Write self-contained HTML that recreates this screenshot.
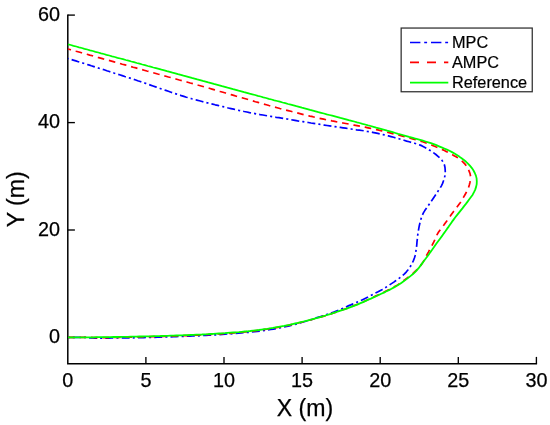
<!DOCTYPE html>
<html><head><meta charset="utf-8"><title>Trajectory</title>
<style>
html,body{margin:0;padding:0;background:#fff;}
svg{display:block;font-family:"Liberation Sans",sans-serif;}
</style></head>
<body>
<svg width="550" height="425" viewBox="0 0 550 425">
<rect width="550" height="425" fill="#fff"/>
<g stroke="#000" fill="none">
<path d="M67.8,14.444999999999999 V363.8 H537.0749999999999" stroke-width="1.5" stroke-linejoin="miter"/>
<g stroke-width="1.35"><line x1="145.9" y1="363.8" x2="145.9" y2="356.90000000000003"/><line x1="224.0" y1="363.8" x2="224.0" y2="356.90000000000003"/><line x1="302.1" y1="363.8" x2="302.1" y2="356.90000000000003"/><line x1="380.2" y1="363.8" x2="380.2" y2="356.90000000000003"/><line x1="458.3" y1="363.8" x2="458.3" y2="356.90000000000003"/><line x1="536.4" y1="363.8" x2="536.4" y2="356.90000000000003"/><line x1="67.8" y1="337.5" x2="74.89999999999999" y2="337.5"/><line x1="67.8" y1="230.0" x2="74.89999999999999" y2="230.0"/><line x1="67.8" y1="122.6" x2="74.89999999999999" y2="122.6"/><line x1="67.8" y1="15.1" x2="74.89999999999999" y2="15.1"/></g>
</g>
<g fill="none" stroke-width="1.8" stroke-linejoin="round">
<path d="M68.0,58.5 L70.6,59.3 L73.2,60.1 L75.8,60.9 L78.3,61.7 L80.9,62.5 L83.5,63.3 L86.1,64.1 L88.7,64.9 L91.3,65.8 L93.9,66.6 L96.4,67.4 L99.0,68.2 L101.6,69.0 L104.2,69.8 L106.8,70.7 L109.3,71.5 L111.9,72.3 L114.5,73.2 L117.1,74.0 L119.6,74.8 L122.2,75.6 L124.8,76.5 L127.4,77.3 L130.0,78.1 L132.5,79.0 L135.1,79.8 L137.7,80.7 L140.2,81.5 L142.8,82.4 L145.4,83.3 L147.9,84.2 L150.5,85.1 L153.0,86.0 L155.6,86.9 L158.2,87.8 L160.7,88.7 L163.3,89.6 L165.8,90.4 L168.4,91.3 L171.0,92.2 L173.5,93.1 L176.1,93.9 L178.7,94.7 L181.3,95.6 L183.8,96.4 L186.4,97.2 L189.0,97.9 L191.6,98.7 L194.2,99.4 L196.8,100.1 L199.4,100.8 L202.1,101.5 L204.7,102.2 L207.3,102.8 L209.9,103.5 L212.6,104.1 L215.2,104.8 L217.8,105.4 L220.5,106.1 L223.1,106.7 L225.7,107.3 L228.4,108.0 L231.0,108.6 L233.7,109.2 L236.3,109.8 L238.9,110.4 L241.6,110.9 L244.2,111.5 L246.9,112.0 L249.5,112.6 L252.2,113.1 L254.9,113.6 L257.5,114.1 L260.2,114.6 L262.9,115.0 L265.5,115.5 L268.2,116.0 L270.9,116.4 L273.5,116.8 L276.2,117.3 L278.9,117.7 L281.6,118.1 L284.2,118.6 L286.9,119.0 L289.6,119.4 L292.3,119.9 L294.9,120.3 L297.6,120.8 L300.3,121.2 L302.9,121.6 L305.6,122.1 L308.3,122.5 L311.0,123.0 L313.6,123.4 L316.3,123.8 L319.0,124.2 L321.7,124.7 L324.3,125.1 L327.0,125.5 L329.7,125.9 L332.4,126.3 L335.0,126.7 L337.7,127.1 L340.4,127.4 L343.1,127.8 L345.8,128.2 L348.4,128.6 L351.1,129.0 L353.8,129.4 L356.5,129.8 L359.2,130.1 L361.9,130.5 L364.5,130.9 L367.2,131.4 L369.9,131.8 L372.5,132.3 L375.2,132.8 L377.8,133.4 L380.5,134.0 L383.1,134.6 L385.8,135.3 L388.4,135.9 L391.0,136.6 L393.6,137.3 L396.2,138.0 L398.8,138.7 L401.4,139.5 L404.0,140.3 L406.6,141.1 L409.2,141.8 L411.9,142.5 L414.5,143.2 L417.1,144.0 L419.6,144.9 L422.1,145.9 L424.5,147.2 L426.9,148.5 L429.2,149.9 L431.5,151.3 L433.7,152.9 L435.9,154.5 L438.0,156.3 L440.0,158.1 L441.8,160.1 L443.3,162.4 L444.4,164.8 L445.0,167.5 L445.2,170.2 L445.3,172.9 L445.0,175.6 L444.3,178.2 L443.5,180.8 L442.6,183.4 L441.4,185.8 L440.1,188.1 L438.5,190.4 L437.0,192.7 L435.5,194.9 L434.0,197.2 L432.5,199.4 L431.0,201.6 L429.4,203.9 L427.9,206.1 L426.4,208.3 L424.8,210.6 L423.4,212.9 L422.3,215.3 L421.3,217.9 L420.5,220.5 L419.9,223.1 L419.3,225.7 L418.8,228.4 L418.3,231.1 L417.9,233.7 L417.6,236.4 L417.3,239.1 L417.0,241.8 L416.8,244.5 L416.5,247.2 L416.1,249.9 L415.7,252.6 L415.2,255.2 L414.5,257.8 L413.5,260.4 L412.4,262.9 L411.1,265.2 L409.7,267.6 L408.1,269.8 L406.4,271.8 L404.5,273.8 L402.5,275.6 L400.4,277.3 L398.2,279.0 L396.0,280.5 L393.8,282.1 L391.5,283.6 L389.3,285.1 L387.0,286.6 L384.7,288.0 L382.4,289.4 L380.0,290.7 L377.6,292.0 L375.2,293.2 L372.8,294.5 L370.4,295.7 L368.0,297.0 L365.6,298.2 L363.1,299.4 L360.7,300.5 L358.2,301.6 L355.8,302.7 L353.3,303.8 L350.8,304.9 L348.3,305.9 L345.8,307.0 L343.3,308.1 L340.8,309.2 L338.4,310.3 L335.8,311.3 L333.3,312.2 L330.8,313.1 L328.2,314.0 L325.6,314.9 L323.1,315.7 L320.5,316.6 L317.9,317.4 L315.3,318.2 L312.8,319.1 L310.2,319.9 L307.6,320.7 L305.0,321.5 L302.4,322.3 L299.8,323.0 L297.2,323.8 L294.6,324.5 L292.0,325.2 L289.3,325.8 L286.7,326.4 L284.1,327.0 L281.4,327.5 L278.7,328.1 L276.1,328.6 L273.4,329.1 L270.7,329.5 L268.1,330.0 L265.4,330.4 L262.7,330.7 L260.0,331.1 L257.3,331.4 L254.7,331.7 L252.0,332.0 L249.3,332.3 L246.6,332.5 L243.9,332.7 L241.2,333.0 L238.5,333.2 L235.8,333.4 L233.1,333.6 L230.4,333.8 L227.7,334.0 L225.0,334.2 L222.3,334.4 L219.6,334.6 L216.9,334.8 L214.2,334.9 L211.4,335.1 L208.7,335.2 L206.0,335.4 L203.3,335.5 L200.6,335.6 L197.9,335.8 L195.2,335.9 L192.5,336.0 L189.8,336.1 L187.1,336.2 L184.4,336.3 L181.7,336.4 L179.0,336.5 L176.3,336.6 L173.6,336.7 L170.9,336.8 L168.2,336.9 L165.5,337.0 L162.7,337.1 L160.0,337.2 L157.3,337.2 L154.6,337.3 L151.9,337.4 L149.2,337.4 L146.5,337.5 L143.8,337.6 L141.1,337.6 L138.4,337.7 L135.7,337.7 L133.0,337.8 L130.3,337.8 L127.5,337.8 L124.8,337.9 L122.1,337.9 L119.4,338.0 L116.7,338.0 L114.0,338.0 L111.3,338.0 L108.6,338.1 L105.9,338.1 L103.2,338.1 L100.5,338.1 L97.8,338.1 L95.0,338.1 L92.3,338.0 L89.6,337.8 L87.0,337.4 L84.3,337.4 L81.6,337.4 L78.8,337.4 L76.1,337.4 L73.4,337.4 L70.7,337.4 L68.0,337.4" stroke="#0000ff" stroke-width="1.7" stroke-dasharray="8 3.1 2.1 3.1" stroke-dashoffset="12.5"/>
<path d="M68.0,49.0 L70.7,49.8 L73.4,50.5 L76.1,51.3 L78.9,52.0 L81.6,52.8 L84.3,53.6 L87.0,54.3 L89.7,55.1 L92.4,55.8 L95.2,56.6 L97.9,57.4 L100.6,58.1 L103.3,58.9 L106.0,59.6 L108.8,60.4 L111.5,61.1 L114.2,61.9 L116.9,62.7 L119.6,63.4 L122.3,64.2 L125.1,64.9 L127.8,65.7 L130.5,66.4 L133.2,67.2 L135.9,67.9 L138.6,68.7 L141.4,69.5 L144.1,70.2 L146.8,71.0 L149.5,71.7 L152.2,72.5 L155.0,73.2 L157.7,74.0 L160.4,74.7 L163.1,75.5 L165.8,76.2 L168.5,77.0 L171.3,77.7 L174.0,78.5 L176.7,79.2 L179.4,80.0 L182.1,80.7 L184.9,81.5 L187.6,82.2 L190.3,83.0 L193.0,83.7 L195.7,84.5 L198.5,85.3 L201.2,86.0 L203.9,86.8 L206.6,87.6 L209.3,88.3 L212.0,89.1 L214.7,89.9 L217.5,90.7 L220.2,91.5 L222.9,92.2 L225.6,93.0 L228.3,93.8 L231.0,94.6 L233.7,95.4 L236.4,96.2 L239.2,97.0 L241.9,97.7 L244.6,98.5 L247.3,99.3 L250.0,100.1 L252.7,100.9 L255.4,101.7 L258.1,102.4 L260.9,103.2 L263.6,104.0 L266.3,104.7 L269.0,105.5 L271.7,106.2 L274.5,107.0 L277.2,107.7 L279.9,108.5 L282.6,109.2 L285.3,109.9 L288.1,110.6 L290.8,111.3 L293.5,112.0 L296.3,112.7 L299.0,113.4 L301.7,114.1 L304.5,114.8 L307.2,115.4 L309.9,116.1 L312.7,116.7 L315.4,117.4 L318.2,118.0 L320.9,118.6 L323.7,119.2 L326.4,119.8 L329.2,120.3 L332.0,120.9 L334.7,121.4 L337.5,122.0 L340.3,122.5 L343.0,123.0 L345.8,123.5 L348.6,124.0 L351.4,124.6 L354.1,125.1 L356.9,125.6 L359.7,126.1 L362.5,126.7 L365.2,127.2 L368.0,127.8 L370.8,128.4 L373.5,129.0 L376.3,129.6 L379.0,130.2 L381.8,130.9 L384.5,131.6 L387.2,132.2 L390.0,132.9 L392.7,133.6 L395.4,134.3 L398.2,135.0 L400.9,135.7 L403.6,136.4 L406.4,137.1 L409.1,137.8 L411.8,138.6 L414.5,139.4 L417.2,140.1 L419.9,141.0 L422.6,141.8 L425.3,142.7 L428.0,143.6 L430.6,144.6 L433.2,145.7 L435.8,146.8 L438.4,147.8 L441.0,149.0 L443.6,150.1 L446.1,151.4 L448.6,152.7 L451.1,154.0 L453.6,155.4 L456.1,156.8 L458.5,158.3 L460.7,160.0 L462.8,161.8 L464.8,163.9 L466.6,166.1 L467.9,168.5 L469.1,171.1 L470.1,173.8 L470.6,176.6 L470.5,179.4 L470.0,182.2 L469.3,185.0 L468.5,187.7 L467.3,190.3 L466.1,192.8 L464.7,195.2 L463.3,197.7 L461.9,200.2 L460.4,202.5 L458.7,204.8 L457.0,207.0 L455.3,209.3 L453.6,211.5 L451.9,213.8 L450.3,216.1 L448.6,218.4 L447.0,220.7 L445.3,222.9 L443.7,225.2 L442.0,227.5 L440.3,229.7 L438.6,232.0 L437.2,234.4 L436.0,237.0 L434.9,239.6 L433.7,242.2 L432.4,244.7 L431.1,247.2 L429.7,249.6 L428.4,252.1 L427.0,254.6 L425.7,257.1 L424.4,259.6 L423.0,262.1 L421.5,264.4 L419.7,266.6 L417.8,268.7 L415.9,270.7 L413.8,272.7 L411.7,274.5 L409.4,276.2 L407.2,278.0 L405.0,279.7 L402.7,281.3 L400.4,283.0 L398.1,284.6 L395.7,286.1 L393.2,287.4 L390.7,288.8 L388.2,290.0 L385.7,291.3 L383.1,292.6 L380.6,293.8 L378.0,295.0 L375.5,296.1 L372.9,297.3 L370.4,298.5 L367.8,299.7 L365.2,300.9 L362.7,302.1 L360.1,303.2 L357.5,304.3 L354.9,305.3 L352.2,306.4 L349.6,307.4 L347.0,308.4 L344.3,309.3 L341.7,310.3 L339.0,311.2 L336.3,312.2 L333.7,313.0 L331.0,313.9 L328.3,314.7 L325.6,315.6 L322.9,316.4 L320.2,317.2 L317.5,318.0 L314.8,318.7 L312.0,319.5 L309.3,320.2 L306.6,320.9 L303.9,321.7 L301.1,322.3 L298.4,323.0 L295.6,323.7 L292.9,324.3 L290.1,324.9 L287.4,325.5 L284.6,326.1 L281.9,326.6 L279.1,327.1 L276.3,327.6 L273.5,328.1 L270.7,328.5 L267.9,329.0 L265.1,329.4 L262.4,329.8 L259.6,330.2 L256.8,330.5 L254.0,330.9 L251.2,331.2 L248.4,331.5 L245.6,331.8 L242.7,332.1 L239.9,332.4 L237.1,332.6 L234.3,332.8 L231.5,333.1 L228.7,333.3 L225.9,333.5 L223.1,333.7 L220.2,333.9 L217.4,334.0 L214.6,334.2 L211.8,334.3 L209.0,334.5 L206.2,334.7 L203.4,334.8 L200.5,334.9 L197.7,335.1 L194.9,335.2 L192.1,335.3 L189.3,335.4 L186.4,335.6 L183.6,335.7 L180.8,335.8 L178.0,335.9 L175.2,336.0 L172.3,336.1 L169.5,336.2 L166.7,336.2 L163.9,336.3 L161.1,336.4 L158.3,336.5 L155.4,336.6 L152.6,336.6 L149.8,336.7 L147.0,336.8 L144.2,336.8 L141.3,336.9 L138.5,337.0 L135.7,337.0 L132.9,337.1 L130.1,337.1 L127.2,337.2 L124.4,337.3 L121.6,337.3 L118.8,337.4 L115.9,337.4 L113.1,337.5 L110.3,337.5 L107.5,337.6 L104.7,337.6 L101.8,337.6 L99.0,337.6 L96.2,337.6 L93.4,337.5 L90.6,337.4 L87.7,337.4 L84.9,337.4 L82.1,337.4 L79.3,337.4 L76.5,337.4 L73.6,337.4 L70.8,337.4 L68.0,337.4" stroke="#ff0000" stroke-width="1.7" stroke-dasharray="6.6 4.9" stroke-dashoffset="3.5"/>
<path d="M68.0,44.3 L70.8,45.0 L73.5,45.8 L76.3,46.5 L79.0,47.3 L81.8,48.0 L84.5,48.8 L87.3,49.5 L90.0,50.3 L92.8,51.0 L95.5,51.8 L98.3,52.5 L101.0,53.3 L103.8,54.0 L106.5,54.8 L109.3,55.5 L112.0,56.3 L114.8,57.0 L117.5,57.8 L120.3,58.5 L123.0,59.2 L125.8,60.0 L128.5,60.7 L131.3,61.5 L134.0,62.2 L136.8,63.0 L139.5,63.7 L142.3,64.5 L145.0,65.2 L147.8,66.0 L150.5,66.7 L153.3,67.5 L156.0,68.2 L158.8,68.9 L161.5,69.7 L164.3,70.4 L167.0,71.2 L169.8,71.9 L172.5,72.7 L175.3,73.4 L178.0,74.2 L180.8,74.9 L183.5,75.7 L186.3,76.4 L189.0,77.1 L191.8,77.9 L194.5,78.6 L197.3,79.4 L200.1,80.1 L202.8,80.9 L205.6,81.6 L208.3,82.4 L211.1,83.1 L213.8,83.9 L216.6,84.6 L219.3,85.3 L222.1,86.1 L224.8,86.8 L227.6,87.6 L230.3,88.3 L233.1,89.1 L235.8,89.8 L238.6,90.6 L241.3,91.3 L244.1,92.1 L246.8,92.8 L249.6,93.6 L252.3,94.3 L255.1,95.0 L257.8,95.8 L260.6,96.5 L263.3,97.3 L266.1,98.0 L268.8,98.8 L271.6,99.5 L274.3,100.3 L277.1,101.0 L279.8,101.7 L282.6,102.5 L285.3,103.2 L288.1,104.0 L290.8,104.7 L293.6,105.4 L296.4,106.2 L299.1,106.9 L301.9,107.7 L304.6,108.4 L307.4,109.1 L310.1,109.9 L312.9,110.6 L315.6,111.3 L318.4,112.1 L321.1,112.8 L323.9,113.5 L326.7,114.3 L329.4,115.0 L332.2,115.7 L334.9,116.4 L337.7,117.1 L340.4,117.9 L343.2,118.6 L346.0,119.3 L348.7,120.1 L351.5,120.8 L354.2,121.5 L357.0,122.3 L359.7,123.0 L362.5,123.8 L365.2,124.5 L368.0,125.3 L370.7,126.0 L373.5,126.8 L376.2,127.6 L378.9,128.3 L381.7,129.1 L384.4,129.9 L387.2,130.7 L389.9,131.4 L392.7,132.2 L395.4,133.0 L398.1,133.8 L400.9,134.5 L403.6,135.3 L406.4,136.1 L409.1,136.9 L411.9,137.6 L414.6,138.4 L417.4,139.1 L420.1,139.9 L422.9,140.7 L425.6,141.5 L428.3,142.3 L431.0,143.2 L433.7,144.1 L436.4,145.2 L439.0,146.3 L441.6,147.4 L444.3,148.5 L446.9,149.6 L449.5,150.8 L452.0,152.1 L454.5,153.5 L456.9,155.0 L459.3,156.6 L461.6,158.3 L463.9,160.0 L466.1,161.8 L468.2,163.8 L470.1,165.9 L471.9,168.1 L473.5,170.5 L474.8,173.0 L475.9,175.6 L476.6,178.4 L476.8,181.3 L476.7,184.1 L476.1,186.9 L475.2,189.6 L474.0,192.2 L472.7,194.7 L471.0,197.0 L469.3,199.3 L467.6,201.6 L465.9,203.9 L464.1,206.1 L462.4,208.4 L460.6,210.6 L458.8,212.9 L457.0,215.1 L455.3,217.3 L453.6,219.6 L451.9,221.9 L450.3,224.3 L448.7,226.6 L447.0,228.9 L445.4,231.3 L443.7,233.6 L442.1,235.9 L440.4,238.2 L438.7,240.5 L437.0,242.8 L435.4,245.1 L433.7,247.5 L432.1,249.8 L430.4,252.1 L428.8,254.5 L427.1,256.8 L425.4,259.0 L423.7,261.3 L422.0,263.6 L420.3,265.9 L418.6,268.2 L416.7,270.3 L414.8,272.4 L412.7,274.3 L410.4,276.1 L408.2,277.9 L405.9,279.6 L403.6,281.3 L401.3,282.9 L398.9,284.5 L396.5,286.0 L394.0,287.4 L391.5,288.8 L389.0,290.1 L386.4,291.3 L383.9,292.6 L381.3,293.8 L378.7,295.0 L376.1,296.2 L373.5,297.4 L370.9,298.6 L368.3,299.7 L365.7,300.9 L363.1,302.1 L360.5,303.2 L357.9,304.3 L355.2,305.3 L352.5,306.3 L349.9,307.3 L347.2,308.3 L344.5,309.3 L341.8,310.2 L339.1,311.1 L336.4,312.0 L333.7,312.9 L331.0,313.8 L328.3,314.6 L325.5,315.5 L322.8,316.3 L320.1,317.1 L317.3,317.9 L314.6,318.6 L311.8,319.4 L309.1,320.1 L306.3,320.8 L303.5,321.5 L300.8,322.2 L298.0,322.9 L295.2,323.5 L292.4,324.1 L289.7,324.8 L286.9,325.3 L284.1,325.9 L281.3,326.4 L278.5,326.9 L275.7,327.4 L272.9,327.9 L270.0,328.3 L267.2,328.8 L264.4,329.2 L261.6,329.6 L258.8,330.0 L255.9,330.3 L253.1,330.6 L250.3,331.0 L247.4,331.3 L244.6,331.5 L241.7,331.8 L238.9,332.1 L236.1,332.3 L233.2,332.5 L230.4,332.7 L227.5,332.9 L224.7,333.2 L221.9,333.3 L219.0,333.5 L216.2,333.7 L213.3,333.9 L210.5,334.0 L207.6,334.2 L204.8,334.3 L201.9,334.5 L199.1,334.6 L196.2,334.7 L193.4,334.9 L190.5,335.0 L187.7,335.1 L184.8,335.2 L182.0,335.3 L179.1,335.4 L176.3,335.5 L173.4,335.6 L170.6,335.7 L167.8,335.8 L164.9,335.9 L162.1,336.0 L159.2,336.1 L156.4,336.1 L153.5,336.2 L150.7,336.3 L147.8,336.4 L145.0,336.4 L142.1,336.5 L139.3,336.5 L136.4,336.6 L133.6,336.7 L130.7,336.7 L127.9,336.8 L125.0,336.8 L122.2,336.9 L119.3,336.9 L116.5,337.0 L113.6,337.0 L110.8,337.1 L107.9,337.1 L105.1,337.1 L102.2,337.2 L99.4,337.2 L96.5,337.2 L93.7,337.3 L90.8,337.3 L88.0,337.3 L85.1,337.3 L82.3,337.3 L79.4,337.4 L76.6,337.4 L73.7,337.4 L70.9,337.4 L68.0,337.4" stroke="#00ff00"/>
</g>
<g font-size="19.8" fill="#000" stroke="#000" stroke-width="0.25"><text x="67.8" y="386.8" text-anchor="middle">0</text><text x="145.9" y="386.8" text-anchor="middle">5</text><text x="224.0" y="386.8" text-anchor="middle">10</text><text x="302.1" y="386.8" text-anchor="middle">15</text><text x="380.2" y="386.8" text-anchor="middle">20</text><text x="458.3" y="386.8" text-anchor="middle">25</text><text x="536.4" y="386.8" text-anchor="middle">30</text><text x="60" y="343.2" text-anchor="end">0</text><text x="60" y="235.7" text-anchor="end">20</text><text x="60" y="128.3" text-anchor="end">40</text><text x="60" y="20.8" text-anchor="end">60</text></g>
<text x="305" y="415.8" font-size="23.1" text-anchor="middle" stroke="#000" stroke-width="0.25">X (m)</text>
<text transform="translate(23.9,199.3) rotate(-90)" font-size="23.1" text-anchor="middle" stroke="#000" stroke-width="0.25">Y (m)</text>
<rect x="401.15" y="28.05" width="131.1" height="63.7" fill="#fff" stroke="#2e2e2e" stroke-width="1.25"/>
<g fill="none" stroke-width="1.6">
<path d="M410,42.5 H448.3" stroke="#0000ff" stroke-dasharray="10.4 3.8 2.9 3.9"/>
<path d="M410,62.4 H448.3" stroke="#ff0000" stroke-dasharray="9 8"/>
<path d="M410,82.6 H448.3" stroke="#00ff00"/>
</g>
<g font-size="16.3" fill="#000" stroke="#000" stroke-width="0.2">
<text x="452" y="48.2">MPC</text>
<text x="452" y="68.2">AMPC</text>
<text x="452" y="88.4">Reference</text>
</g>
</svg>
</body></html>
